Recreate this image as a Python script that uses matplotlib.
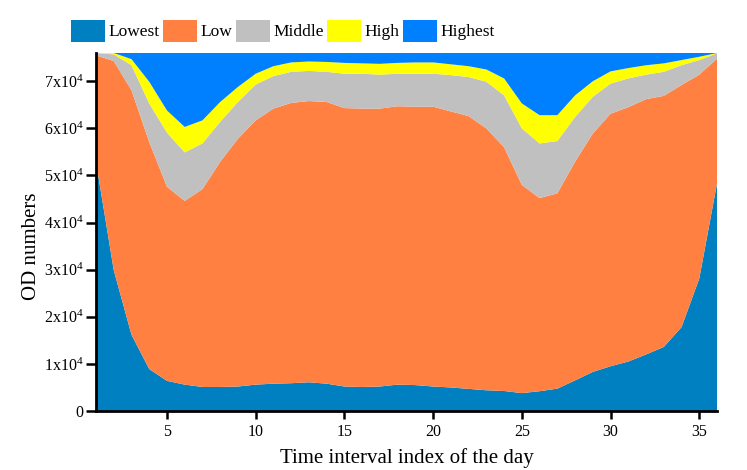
import matplotlib
matplotlib.use("Agg")
import matplotlib.pyplot as plt
import numpy as np

intervals = list(range(1, 37))
lowest = [52900, 29900, 16200, 8900, 6400, 5600, 5100, 5100, 5200, 5600, 5800, 5900,
          6100, 5800, 5200, 5100, 5200, 5600, 5500, 5200, 5000, 4700, 4400, 4250,
          3800, 4200, 4750, 6500, 8300, 9500, 10500, 12000, 13600, 17800, 28100, 48300]
low = [22600, 44400, 51900, 48200, 41200, 39000, 42000, 47800, 52600, 56100, 58400, 59500,
       59700, 59800, 59100, 59100, 59000, 59100, 59100, 59400, 58600, 57900, 55600, 51750,
       44200, 41000, 41450, 46400, 50600, 53600, 54000, 54200, 53300, 51400, 43300, 26500]
middle = [500, 1400, 5300, 8200, 11500, 10300, 9700, 8500, 7800, 7600, 6900, 6600,
          6400, 6400, 7300, 7400, 7200, 6900, 7000, 7000, 7700, 8300, 9900, 11000,
          12000, 11600, 11100, 9500, 7800, 6400, 6100, 5200, 5100, 4200, 3100, 1100]
high = [0, 300, 1300, 4600, 4700, 5400, 4900, 4200, 3200, 2300, 2100, 2000,
        2000, 2100, 2300, 2200, 2300, 2300, 2400, 2400, 2300, 2300, 2600, 3600,
        5300, 6000, 5500, 4600, 3300, 2600, 2200, 2000, 1800, 1100, 700, 100]
highest = [0, 0, 1300, 6100, 12200, 15700, 14300, 10400, 7200, 4400, 2800, 2000,
           1800, 1900, 2100, 2200, 2300, 2100, 2000, 2000, 2400, 2800, 3500, 5400,
           10700, 13200, 13200, 9000, 6000, 3900, 3200, 2600, 2200, 1500, 800, 0]
series_names = ["Lowest", "Low", "Middle", "High", "Highest"]
colors = ["#0080C0", "#FF8040", "#C0C0C0", "#FFFF00", "#0080FF"]
x_ticks = [5, 10, 15, 20, 25, 30, 35]
y_ticks = [0, 10000, 20000, 30000, 40000, 50000, 60000, 70000]
y_tick_labels = ["0"] + [f"{i}x10$^{{4}}$" for i in range(1, 8)]

plt.rcParams["font.family"] = ["Liberation Serif", "DejaVu Serif"]
plt.rcParams["mathtext.fontset"] = "custom"
plt.rcParams["mathtext.rm"] = "Liberation Serif"
plt.rcParams["mathtext.default"] = "regular"

fig = plt.figure(figsize=(7.47, 4.70), dpi=100)
ax = fig.add_axes([96/747, 1-411/470, (717-96)/747, (411-53)/470])

polys = ax.stackplot(intervals, lowest, low, middle, high, highest,
                     colors=colors, labels=series_names, linewidth=0)

ax.set_xlim(1, 36)
ax.set_ylim(0, 76000)
ax.set_xticks(x_ticks)
ax.set_yticks(y_ticks)
ax.set_yticklabels(y_tick_labels)
ax.tick_params(axis="both", direction="out", length=6, width=1.8, labelsize=11.5)
ax.tick_params(axis="y", length=7, pad=2)
for s in ["top", "right"]:
    ax.spines[s].set_visible(False)
for s in ["left", "bottom"]:
    ax.spines[s].set_linewidth(2)

ax.set_xlabel("Time interval index of the day", fontsize=15, labelpad=6)
ax.set_ylabel("OD numbers", fontsize=15)
ax.yaxis.set_label_coords(-0.088, 0.461)

fig.legend(handles=polys, labels=series_names, loc="center", ncol=5,
           bbox_to_anchor=(283/747, 1-30.7/470), frameon=False, fontsize=12.5,
           handlelength=1.95, handleheight=1.56, handletextpad=0.2,
           columnspacing=0.2, borderpad=0)

fig.savefig("out.png", dpi=100)
